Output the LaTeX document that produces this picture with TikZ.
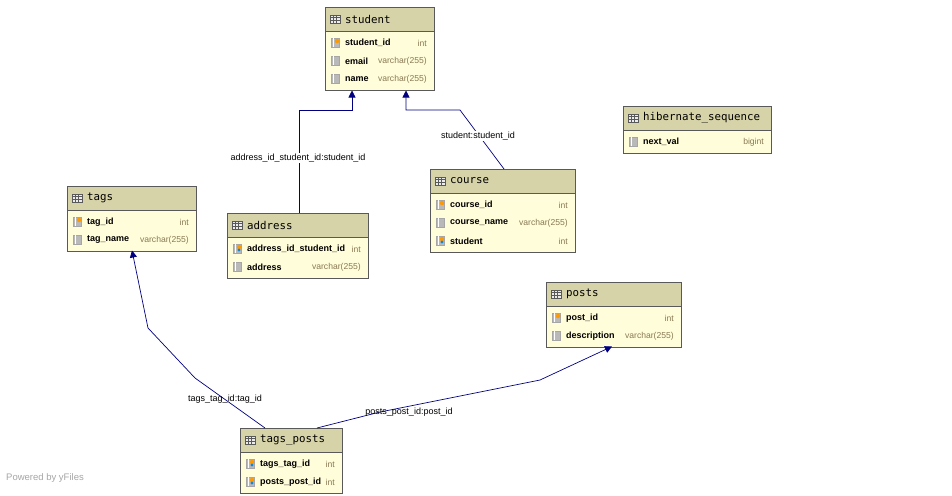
\documentclass[tikz,border=0pt]{standalone}
\usepackage{fontspec}
\setmainfont{Liberation Sans}
\newfontfamily\hdrfont{DejaVu Sans Mono}
\usetikzlibrary{arrows.meta}
\definecolor{hdr}{HTML}{D6D3A8}
\definecolor{bdy}{HTML}{FFFDDA}
\definecolor{edg}{HTML}{000080}
\definecolor{typ}{HTML}{8A7A55}
\tikzset{x=1pt,y=-1pt,
 conn/.style={edg,line width=0.7pt},
 arr/.style={conn,-{Triangle[length=7pt,width=7pt]}},
 lbl/.style={font=\fontsize{9}{10}\selectfont,inner sep=1pt},
 rowname/.style={anchor=west,font=\fontsize{9}{10}\selectfont\bfseries,inner sep=0},
 rowtype/.style={anchor=east,font=\fontsize{8.6}{10}\selectfont,text=typ,inner sep=0},
 title/.style={anchor=west,font=\fontsize{10.8}{12}\hdrfont,inner sep=0},
 ico/.style={fill=gray!55,draw=gray!70,line width=0.3pt}}
\newcommand\dbtable[7]{%
 \pgfmathsetmacro\hb{#3+24+18*#6+5}
 \fill[bdy] (#2,#3) rectangle (#2+#4,\hb);
 \fill[hdr] (#2,#3) rectangle (#2+#4,#3+24);
 \draw[gray!70!black,line width=0.6pt] (#2,#3) rectangle (#2+#4,\hb);
 \draw[gray!70!black,line width=0.6pt] (#2,#3+24) -- (#2+#4,#3+24);
 \draw[gray!70!black,fill=gray!15,line width=0.4pt] (#2+5,#3+8) rectangle (#2+15,#3+16);
 \draw[gray!70!black,line width=0.3pt] (#2+5,#3+10.5)--(#2+15,#3+10.5) (#2+5,#3+13.3)--(#2+15,#3+13.3) (#2+8.3,#3+8)--(#2+8.3,#3+16) (#2+11.6,#3+8)--(#2+11.6,#3+16);
 \node[title] (#1) at (#2+20,#3+12) {#5};
 \coordinate (#1-box) at (#2,#3);
 \foreach \rn/\rt/\rk [count=\i from 0] in {#7} {
  \pgfmathsetmacro\ry{#3+24+12+18*\i}
  \fill[ico] (#2+6,\ry-5) rectangle (#2+14,\ry+4);
  \draw[white,line width=0.4pt] (#2+8,\ry-5)--(#2+8,\ry+4);
  \ifnum\rk>0 \fill[orange!80!yellow] (#2+12,\ry-2) circle (2.2pt); \fi
  \ifnum\rk>1 \fill[cyan!70!blue] (#2+12,\ry+1) circle (1.6pt); \fi
  \node[rowname] at (#2+20,\ry) {\rn};
  \node[rowtype] at (#2+#4-7,\ry) {\rt};
 }%
}
\begin{document}
\begin{tikzpicture}
\useasboundingbox (0,0) rectangle (952,495);
\fill[white] (0,0) rectangle (952,495);
\dbtable{student}{325}{7}{109}{student}{3}{student\_id/int/1,email/varchar(255)/0,name/varchar(255)/0}
\dbtable{hseq}{623}{106}{148}{hibernate\_sequence}{1}{next\_val/bigint/0}
\dbtable{tags}{67}{186}{129}{tags}{2}{tag\_id/int/1,tag\_name/varchar(255)/0}
\dbtable{address}{227}{213}{141}{address}{2}{address\_id\_student\_id/int/2,address/varchar(255)/0}
\dbtable{course}{430}{169}{145}{course}{3}{course\_id/int/1,course\_name/varchar(255)/0,student/int/2}
\dbtable{posts}{546}{282}{135}{posts}{2}{post\_id/int/1,description/varchar(255)/0}
\dbtable{tagsposts}{240}{428}{102}{tags\_posts}{2}{tags\_tag\_id/int/2,posts\_post\_id/int/2}

\coordinate (a1) at (299,213); \coordinate (s1) at (352,90.5);
\coordinate (c1) at (504,169); \coordinate (s2) at (406,90.5);
\coordinate (tp1) at (265,428); \coordinate (t1) at (132,250.5);
\coordinate (tp2) at (317,428); \coordinate (p1) at (612,346.5);
\draw[arr] (a1) -- (299,110) -- (352,110) -- (s1);
\draw[arr] (c1) -- (460,110) -- (406,110) -- (s2);
\draw[arr] (tp1) -- (195,378) -- (148,328) -- (t1);
\draw[arr] (tp2) -- (380,412) -- (540,380) -- (p1);
\node[lbl,fill=white] at (298,158) {address\_id\_student\_id:student\_id};
\node[lbl,fill=white] at (478,136) {student:student\_id};
\node[lbl] at (225,399) {tags\_tag\_id:tag\_id};
\node[lbl] at (409,412) {posts\_post\_id:post\_id};
\node[anchor=west,text=gray!70,font=\fontsize{9.5}{11}\selectfont,inner sep=0] at (6,478) {Powered by yFiles};
\end{tikzpicture}
\end{document}
